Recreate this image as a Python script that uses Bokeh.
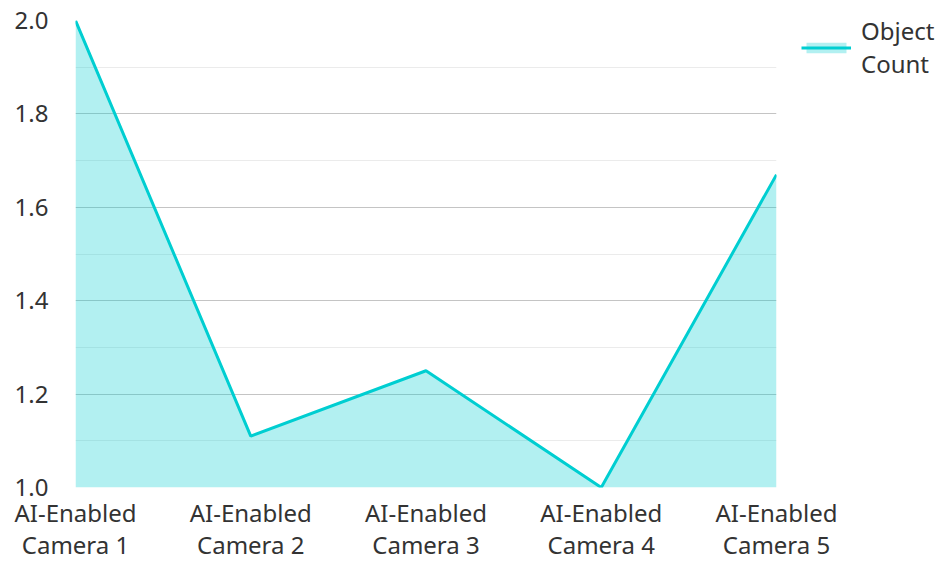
from bokeh.plotting import figure
from bokeh.models import FixedTicker, Range1d, Legend, LegendItem, ColumnDataSource
from bokeh.embed import file_html
from bokeh.resources import INLINE

categories = ["AI-Enabled\nCamera 1", "AI-Enabled\nCamera 2", "AI-Enabled\nCamera 3",
              "AI-Enabled\nCamera 4", "AI-Enabled\nCamera 5"]
object_count = [2.0, 1.11, 1.25, 1.0, 1.67]
y_ticks = [1.0, 1.2, 1.4, 1.6, 1.8, 2.0]
y_minor = [1.1, 1.3, 1.5, 1.7, 1.9]
series_name = "Object\nCount"

FONT = "Noto Sans"
TXT = "#333333"
TEAL = "#00CED1"

xs = list(range(len(categories)))
baseline = [1.0] * len(categories)
src = ColumnDataSource(dict(x=xs, y=object_count, base=baseline))

p = figure(width=939, height=561, output_backend="svg", toolbar_location=None,
           x_range=Range1d(0, len(categories) - 1), y_range=Range1d(1.0, 2.0),
           min_border_left=75, min_border_top=20, min_border_bottom=74, min_border_right=163)
p.frame_width = 701
p.frame_height = 467
p.outline_line_color = None
p.background_fill_color = "white"

area = p.varea(x="x", y1="base", y2="y", source=src, fill_color=TEAL, fill_alpha=0.3)
line = p.line(x="x", y="y", source=src, line_color=TEAL, line_width=3)

p.xgrid.grid_line_color = None
p.ygrid.grid_line_color = "#c4c4c4"
p.ygrid.minor_grid_line_color = "#ebebeb"
p.yaxis.ticker = FixedTicker(ticks=y_ticks, minor_ticks=y_minor)
p.yaxis.major_label_overrides = {t: f"{t:.1f}" for t in y_ticks}
p.xaxis.ticker = FixedTicker(ticks=xs)
p.xaxis.major_label_overrides = {i: c for i, c in enumerate(categories)}

for ax in (p.xaxis[0], p.yaxis[0]):
    ax.axis_line_color = None
    ax.major_tick_line_color = None
    ax.minor_tick_line_color = None
    ax.major_tick_out = 0
    ax.minor_tick_out = 0
    ax.major_label_text_font = FONT
    ax.major_label_text_color = TXT
    ax.major_label_text_font_size = "24px"
p.xaxis.major_label_text_line_height = 0.97
p.yaxis.major_label_standoff = 27
p.xaxis.major_label_standoff = 8

legend = Legend(items=[LegendItem(label=series_name, renderers=[area, line])],
                location=(25, 407), margin=0, padding=0, border_line_color=None,
                background_fill_alpha=0, glyph_width=50, glyph_height=13,
                label_standoff=10, label_text_font=FONT, label_text_font_size="24px",
                label_text_line_height=1.0, label_text_color=TXT)
p.add_layout(legend, "right")

open("out.html", "w").write(file_html(p, INLINE))
